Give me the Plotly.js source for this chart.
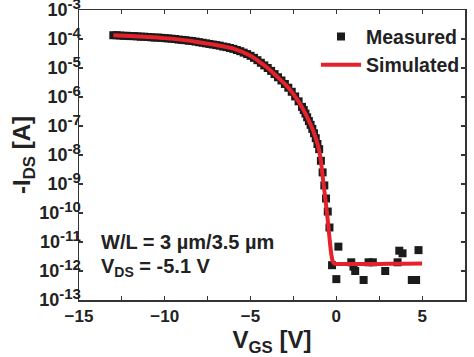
<!DOCTYPE html>
<html>
<head>
<meta charset="utf-8">
<script src="https://cdn.plot.ly/plotly-3.0.1.min.js"></script>
<style>html,body{margin:0;padding:0;background:#fff;}#chart{width:474px;height:357px;}</style>
</head>
<body>
<div id="chart"></div>
<script>
// Measured data: V_GS (V) and log10(-I_DS / A)
const measuredVgs = [
  -13.0,-12.8,-12.6,-12.4,-12.2,-12.0,-11.8,-11.6,-11.4,-11.2,
  -11.0,-10.8,-10.6,-10.4,-10.2,-10.0,-9.8,-9.6,-9.4,-9.2,
  -9.0,-8.8,-8.6,-8.4,-8.2,-8.0,-7.8,-7.6,-7.4,-7.2,
  -7.0,-6.8,-6.6,-6.4,-6.2,-6.0,-5.8,-5.6,-5.4,-5.2,
  -5.0,-4.8,-4.6,-4.4,-4.2,-4.0,-3.8,-3.6,-3.4,-3.2,
  -3.0,-2.8,-2.6,-2.4,-2.2,-2.0,
  -1.9,-1.8,-1.7,-1.6,-1.5,-1.4,-1.3,-1.2,-1.1,-1.0,
  -0.9,-0.8,-0.7,-0.6,-0.5,-0.4,
  -0.25,0.0,0.12,0.87,1.0,1.1,1.59,1.88,2.13,2.85,3.57,3.67,3.86,4.4,4.65,4.79
];
const measuredLogI = [
  -3.87,-3.87,-3.88,-3.89,-3.89,-3.90,-3.90,-3.91,-3.92,-3.92,
  -3.93,-3.94,-3.95,-3.95,-3.96,-3.97,-3.98,-3.99,-4.00,-4.02,
  -4.03,-4.04,-4.06,-4.07,-4.09,-4.11,-4.13,-4.15,-4.17,-4.19,
  -4.21,-4.23,-4.26,-4.28,-4.31,-4.34,-4.38,-4.42,-4.47,-4.52,
  -4.58,-4.65,-4.73,-4.82,-4.91,-5.00,-5.10,-5.21,-5.32,-5.43,
  -5.55,-5.68,-5.82,-5.98,-6.15,-6.34,
  -6.45,-6.57,-6.70,-6.83,-6.96,-7.10,-7.25,-7.42,-7.62,-7.80,
  -8.20,-8.60,-9.05,-9.50,-9.95,-10.50,
  -11.80,-12.28,-11.16,-11.70,-11.85,-12.00,-12.31,-11.70,-11.70,-12.00,-11.70,-11.30,-11.39,-12.31,-12.31,-11.28
];
// Simulated curve
const simulatedVgs = [
  -13,-12,-11,-10,-9,-8,-7,-6,-5,-4.5,-4,-3.5,-3,-2.5,-2,-1.5,-1.2,-1,-0.9,-0.8,
  -0.7,-0.6,-0.5,-0.4,-0.3,-0.2,-0.1,0,1,2,3,4,5
];
const simulatedLogI = [
  -3.87,-3.90,-3.93,-3.97,-4.03,-4.11,-4.21,-4.33,-4.58,-4.78,-5.00,-5.27,-5.55,-5.90,-6.35,-6.95,-7.42,-7.85,-8.20,-8.72,
  -9.22,-9.72,-10.25,-10.85,-11.40,-11.68,-11.75,-11.76,-11.76,-11.76,-11.75,-11.75,-11.74
];
const yTickExp = [-3,-4,-5,-6,-7,-8,-9,-10,-11,-12,-13];
const xTickVals = [-15,-10,-5,0,5];
const seriesNames = ["Measured","Simulated"];
const annotationLines = ["W/L = 3 µm/3.5 µm","V<sub>DS</sub> = -5.1 V"];

const toI = a => a.map(v => Math.pow(10, v));
const FONT = "Liberation Sans, Arial, Helvetica, sans-serif";

// minor tick positions (log10 of 2..9 x 10^e), drawn on a linear overlay axis spanning the same decades
const minorLogY = [];
for (let e = -13; e < -3; e++) for (let d = 2; d <= 9; d++) minorLogY.push(e + Math.log10(d));

const traces = [
  {
    x: measuredVgs, y: toI(measuredLogI), name: seriesNames[0],
    type: "scatter", mode: "markers",
    marker: {symbol: "square", size: 8, color: "#1b1b1b"}
  },
  {
    x: simulatedVgs, y: toI(simulatedLogI), name: seriesNames[1],
    type: "scatter", mode: "lines", line: {color: "#e3222b", width: 4, shape: "spline", smoothing: 0.6}
  }
];

const axisCommon = {
  showline: true, linecolor: "#333", linewidth: 1.5, mirror: "ticks",
  ticks: "inside", ticklen: 4, tickwidth: 1.2, tickcolor: "#333",
  showgrid: false, zeroline: false,
  tickfont: {family: FONT, size: 17, color: "#222", weight: "bold"}
};

const layout = {
  width: 474, height: 357,
  margin: {l: 79, r: 9, t: 10, b: 57},
  paper_bgcolor: "#fff", plot_bgcolor: "#fff",
  showlegend: true,
  legend: {
    x: 1, xanchor: "right", y: 0.975, yanchor: "top",
    bgcolor: "rgba(0,0,0,0)", borderwidth: 0,
    font: {family: FONT, size: 19.5, color: "#222", weight: "bold"},
    itemwidth: 40, tracegroupgap: 0
  },
  xaxis: Object.assign({}, axisCommon, {
    range: [-15, 7.5],
    tickvals: xTickVals,
    minor: {dtick: 2.5, ticks: "inside", ticklen: 4, tickcolor: "#333", tickwidth: 1.2, showgrid: false},
    title: {text: "V<sub>GS</sub> [V]", font: {family: FONT, size: 24, color: "#222", weight: "bold"}, standoff: 4}
  }),
  yaxis: Object.assign({}, axisCommon, {
    type: "log", range: [-13, -3],
    tickmode: "array",
    tickvals: yTickExp.map(e => Number("1e" + e)),
    ticktext: yTickExp.map(e => "10<sup><span style=\"font-size:15px\">" + e + "</span></sup>"),
    tickfont: {family: FONT, size: 18, color: "#222", weight: "bold"},
    ticklabelstandoff: -7,
    ticklabeloverflow: "allow",
    title: {text: "-I<sub>DS</sub> [A]", font: {family: FONT, size: 24, color: "#222", weight: "bold"}, standoff: 2}
  }),
  yaxis2: {
    overlaying: "y", anchor: "x", side: "left", range: [-13, -3], fixedrange: true,
    tickmode: "array", tickvals: minorLogY, showticklabels: false,
    ticks: "inside", ticklen: 3, tickwidth: 1, tickcolor: "#333",
    showline: false, mirror: "ticks", showgrid: false, zeroline: false
  },
  annotations: [
    {text: annotationLines[0], xref: "paper", yref: "paper", x: 0.052, y: 0.2, xanchor: "left", yanchor: "middle",
     showarrow: false, font: {family: FONT, size: 20, color: "#222", weight: "bold"}},
    {text: annotationLines[1], xref: "paper", yref: "paper", x: 0.052, y: 0.112, xanchor: "left", yanchor: "middle",
     showarrow: false, font: {family: FONT, size: 20, color: "#222", weight: "bold"}}
  ]
};

Plotly.newPlot("chart", traces, layout, {displayModeBar: false, staticPlot: true});
</script>
</body>
</html>
